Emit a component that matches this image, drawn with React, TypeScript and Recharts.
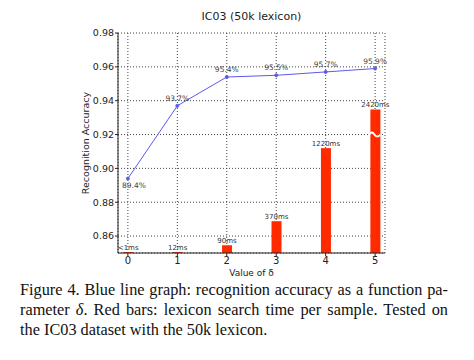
import React from 'react';
import { ComposedChart, Line, Bar, XAxis, YAxis, CartesianGrid, LabelList } from 'recharts';

// delta values on the x axis
const deltas = [0, 1, 2, 3, 4, 5];
// recognition accuracy (blue line)
const accuracy = [0.894, 0.937, 0.954, 0.955, 0.957, 0.959];
const accuracyLabels = ['89.4%', '93.7%', '95.4%', '95.5%', '95.7%', '95.9%'];
// lexicon search time per sample in ms (red bars)
const searchTimeMs = [0.5, 12, 90, 370, 1220, 2420];
const searchTimeLabels = ['<1ms', '12ms', '90ms', '370ms', '1220ms', '2420ms'];
const accuracyTicks = [0.86, 0.88, 0.9, 0.92, 0.94, 0.96, 0.98];

// bars taller than this are drawn cut with a break mark
const timeAxisMax = 2560;
const barBreakCap = 1670;
const barBreakAt = 1390;

const data = deltas.map((d, i) => ({
    delta: d,
    accuracy: accuracy[i],
    accLabel: accuracyLabels[i],
    time: Math.min(searchTimeMs[i], barBreakCap),
    fullTime: searchTimeMs[i],
    timeLabel: searchTimeLabels[i],
}));

const FONT = '"DejaVu Sans", sans-serif';
const BLUE = '#5b5bea';
const RED = '#ff2a00';
const INK = '#222';

const BrokenBar = (props: any) => {
    const { x, y, width, height, payload } = props;
    const broken = payload.fullTime > barBreakCap;
    const by = y + height * (1 - barBreakAt / barBreakCap);
    return (
        <g>
            <rect x={x} y={y} width={width} height={height} fill={RED} />
            {broken && (
                <path
                    d={`M${x - 1},${by + 1} q${width / 4},-4 ${width / 2},0 t${width / 2 + 1},0`}
                    stroke="#fff"
                    strokeWidth={2}
                    fill="none"
                />
            )}
        </g>
    );
};

const AccLabel = (props: any) => {
    const { x, y, value, index } = props;
    const first = index === 0;
    return (
        <text
            x={first ? x + 6 : x}
            y={first ? y + 9 : y - 5}
            textAnchor="middle"
            fontSize={7.5}
            fontFamily={FONT}
            fill="#444"
        >
            {value}
        </text>
    );
};

const App: React.FC = () => {
    return (
        <div style={{ position: 'absolute', left: 0, top: 0, width: 474, height: 360, background: '#fff' }}>
            <div
                style={{
                    position: 'absolute', left: 118, width: 267, top: 9, textAlign: 'center',
                    fontFamily: FONT, fontSize: 11, color: INK, lineHeight: '16px',
                }}
            >
                IC03 (50k lexicon)
            </div>
            <div style={{ position: 'absolute', left: 0, top: 0 }}>
                <ComposedChart
                    width={474}
                    height={280}
                    data={data}
                    margin={{ top: 33, right: 89, left: 78, bottom: 3 }}
                >
                    <CartesianGrid strokeDasharray="1 2" stroke="#444" />
                    <XAxis
                        dataKey="delta"
                        type="number"
                        domain={[-0.2, 5.2]}
                        ticks={deltas}
                        allowDataOverflow
                        height={24}
                        tickSize={3}
                        tickMargin={1}
                        stroke={INK}
                        tick={{ fill: INK, fontSize: 10, fontFamily: FONT }}
                        label={{
                            content: ({ viewBox }: any) => (
                                <text
                                    x={viewBox.x + viewBox.width / 2}
                                    y={viewBox.y + 23}
                                    textAnchor="middle"
                                    fontSize={9}
                                    fontFamily={FONT}
                                    fill={INK}
                                >
                                    Value of δ
                                </text>
                            ),
                        }}
                    />
                    <XAxis xAxisId="top" orientation="top" dataKey="delta" type="number" domain={[-0.2, 5.2]} tick={false} tickLine={false} height={0} stroke={INK} />
                    <YAxis
                        domain={[0.85, 0.98]}
                        ticks={accuracyTicks}
                        allowDataOverflow
                        width={40}
                        tickSize={3}
                        tickMargin={1}
                        stroke={INK}
                        tickFormatter={(v: number) => v.toFixed(2)}
                        tick={{ fill: INK, fontSize: 9.5, fontFamily: FONT }}
                        label={{
                            content: ({ viewBox }: any) => {
                                const cx = viewBox.x + 7;
                                const cy = viewBox.y + viewBox.height / 2;
                                return (
                                    <text
                                        x={cx}
                                        y={cy}
                                        transform={`rotate(-90 ${cx} ${cy})`}
                                        textAnchor="middle"
                                        dominantBaseline="central"
                                        fontSize={9.5}
                                        fontFamily={FONT}
                                        fill={INK}
                                    >
                                        Recognition Accuracy
                                    </text>
                                );
                            },
                        }}
                    />
                    <YAxis yAxisId="right" orientation="right" domain={[0.85, 0.98]} tick={false} tickLine={false} width={0} stroke={INK} />
                    <YAxis yAxisId="time" hide domain={[0, timeAxisMax]} allowDataOverflow />
                    <Bar
                        yAxisId="time"
                        dataKey="time"
                        barSize={10}
                        minPointSize={1}
                        shape={BrokenBar}
                        isAnimationActive={false}
                    >
                        <LabelList dataKey="timeLabel" position="top" offset={2} fontSize={7} fontFamily={FONT} fill="#333" />
                    </Bar>
                    <Line
                        dataKey="accuracy"
                        stroke={BLUE}
                        strokeWidth={1}
                        dot={{ r: 1.5, fill: BLUE, stroke: BLUE }}
                        isAnimationActive={false}
                    >
                        <LabelList dataKey="accLabel" content={AccLabel} />
                    </Line>
                </ComposedChart>
            </div>
            <div
                style={{
                    position: 'absolute', left: 20, top: 280, width: 428,
                    fontFamily: '"Liberation Serif", "Times New Roman", serif',
                    fontSize: 16.3, lineHeight: '20px', color: '#111',
                }}
            >
                <div style={{ textAlign: 'justify', textAlignLast: 'justify' }}>
                    Figure 4. Blue line graph: recognition accuracy as a function pa-
                </div>
                <div style={{ textAlign: 'justify', textAlignLast: 'justify' }}>
                    rameter <i>δ</i>. Red bars: lexicon search time per sample. Tested on
                </div>
                <div>the IC03 dataset with the 50k lexicon.</div>
            </div>
        </div>
    );
};

export default App;
